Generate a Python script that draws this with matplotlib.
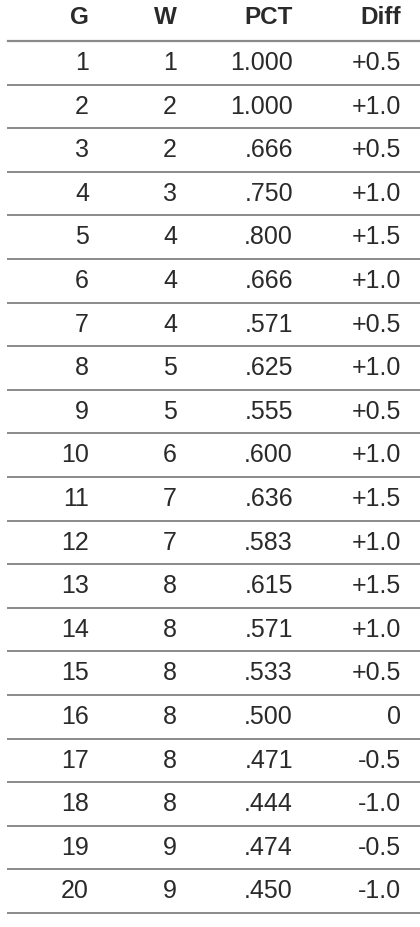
import matplotlib.pyplot as plt

headers = ["G", "W", "PCT", "Diff"]
games = [str(i) for i in range(1, 21)]
wins = ["1", "2", "2", "3", "4", "4", "4", "5", "5", "6", "7", "7", "8", "8", "8", "8", "8", "8", "9", "9"]
pct = ["1.000", "1.000", ".666", ".750", ".800", ".666", ".571", ".625", ".555", ".600",
       ".636", ".583", ".615", ".571", ".533", ".500", ".471", ".444", ".474", ".450"]
diff = ["+0.5", "+1.0", "+0.5", "+1.0", "+1.5", "+1.0", "+0.5", "+1.0", "+0.5", "+1.0",
        "+1.5", "+1.0", "+1.5", "+1.0", "+0.5", "0", "-0.5", "-1.0", "-0.5", "-1.0"]

plt.rcParams['font.family'] = ['Liberation Sans', 'DejaVu Sans']

fig = plt.figure(figsize=(4.2, 9.27), dpi=100)
ax = fig.add_axes([0, 0, 1, 1])
ax.set_xlim(0, 420)
ax.set_ylim(927, 0)
ax.axis('off')

col_right = [89, 177, 293, 401]
row_h = 43.6
txt_col = "#2a2a2a"

for x, h in zip(col_right, headers):
    ax.text(x, 17, h, ha='right', va='center', fontsize=17.5, fontweight='bold', color=txt_col)
ax.plot([8, 420], [41, 41], color="#8a8a8a", lw=1.6)

columns = [games, wins, pct, diff]
for i in range(len(games)):
    y = 63 + row_h * i
    for x, col in zip(col_right, columns):
        ax.text(x, y, col[i], ha='right', va='center', fontsize=18, color=txt_col)
    ly = 84.5 + row_h * i
    ax.plot([8, 420], [ly, ly], color="#8a8a8a", lw=1.4)

fig.savefig("out.png", dpi=100)
